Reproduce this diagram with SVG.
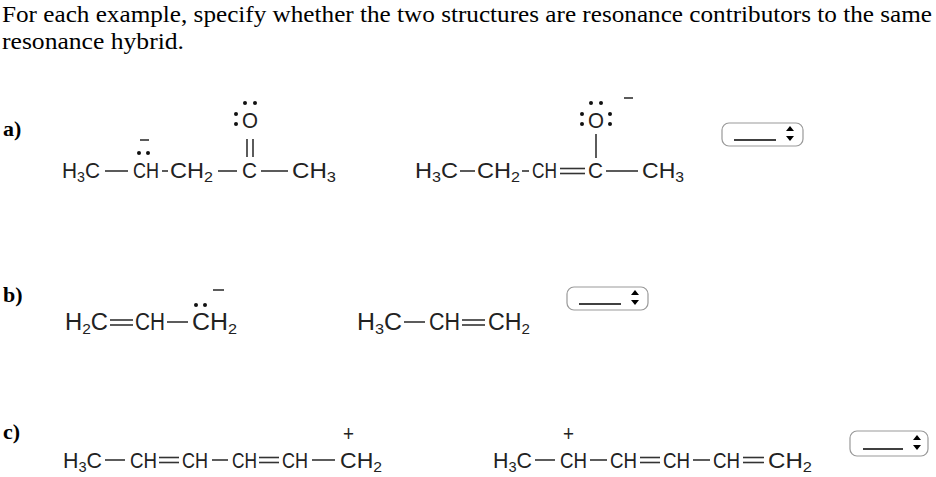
<svg xmlns="http://www.w3.org/2000/svg" width="936" height="477" viewBox="0 0 936 477">
<style>
.q{font-family:"Liberation Serif",serif;font-size:24px;fill:#000}
.l{font-family:"Liberation Serif",serif;font-size:22px;font-weight:bold;fill:#000}
.m{font-family:"Liberation Sans",Arial,sans-serif;font-size:22px;fill:#222}
.mb{font-family:"Liberation Sans",Arial,sans-serif;font-size:23px;fill:#222}
.s{font-size:15px}
.b{stroke:#333;stroke-width:1.6;fill:none}
.d{fill:#111}
.box{fill:#fff;stroke:#999;stroke-width:1.2}
</style>
<rect width="936" height="477" fill="#fff"/>
<text class="q" x="2" y="22" textLength="930" lengthAdjust="spacingAndGlyphs">For each example, specify whether the two structures are resonance contributors to the same</text>
<text class="q" x="2" y="49" textLength="182" lengthAdjust="spacingAndGlyphs">resonance hybrid.</text>
<text class="l" x="3" y="136">a)</text>
<text class="l" x="3" y="302">b)</text>
<text class="l" x="3" y="439">c)</text>

<g id="a1">
<text class="m" x="62" y="178" textLength="38" lengthAdjust="spacingAndGlyphs">H<tspan class="s" dy="4">3</tspan><tspan dy="-4">C</tspan></text>
<text class="m" x="133" y="178" textLength="26" lengthAdjust="spacingAndGlyphs">CH</text>
<text class="m" x="170" y="178" textLength="43" lengthAdjust="spacingAndGlyphs">CH<tspan class="s" dy="4">2</tspan></text>
<text class="m" x="242" y="178" textLength="15" lengthAdjust="spacingAndGlyphs">C</text>
<text class="m" x="292" y="178" textLength="44" lengthAdjust="spacingAndGlyphs">CH<tspan class="s" dy="4">3</tspan></text>
<line class="b" x1="105" y1="171" x2="128" y2="171"/>
<line class="b" x1="162" y1="171" x2="168" y2="171"/>
<line class="b" x1="218" y1="171" x2="237" y2="171"/>
<line class="b" x1="261" y1="171" x2="288" y2="171"/>
<circle class="d" cx="139" cy="153" r="2"/><circle class="d" cx="148" cy="153" r="2"/>
<line class="b" x1="140" y1="140" x2="149" y2="140"/>
<line class="b" x1="247" y1="139" x2="247" y2="157"/><line class="b" x1="253" y1="139" x2="253" y2="157"/>
<text class="m" x="242" y="128" textLength="16" lengthAdjust="spacingAndGlyphs">O</text>
<circle class="d" cx="245" cy="103" r="2"/><circle class="d" cx="255" cy="103" r="2"/>
<circle class="d" cx="236" cy="114" r="2"/><circle class="d" cx="236" cy="124" r="2"/>
</g>
<g id="a2">
<text class="m" x="415" y="178" textLength="43" lengthAdjust="spacingAndGlyphs">H<tspan class="s" dy="4">3</tspan><tspan dy="-4">C</tspan></text>
<text class="m" x="477" y="178" textLength="43" lengthAdjust="spacingAndGlyphs">CH<tspan class="s" dy="4">2</tspan></text>
<text class="m" x="532" y="178" textLength="25" lengthAdjust="spacingAndGlyphs">CH</text>
<text class="m" x="588" y="178" textLength="15" lengthAdjust="spacingAndGlyphs">C</text>
<text class="m" x="642" y="178" textLength="42" lengthAdjust="spacingAndGlyphs">CH<tspan class="s" dy="4">3</tspan></text>
<line class="b" x1="460" y1="171" x2="475" y2="171"/>
<line class="b" x1="522" y1="171" x2="529" y2="171"/>
<line class="b" x1="560" y1="168.5" x2="585" y2="168.5"/><line class="b" x1="560" y1="173.5" x2="585" y2="173.5"/>
<line class="b" x1="606" y1="171" x2="638" y2="171"/>
<line class="b" x1="596" y1="134" x2="596" y2="158"/>
<text class="m" x="588" y="128" textLength="16" lengthAdjust="spacingAndGlyphs">O</text>
<circle class="d" cx="591" cy="103" r="2"/><circle class="d" cx="601" cy="103" r="2"/>
<circle class="d" cx="582" cy="114" r="2"/><circle class="d" cx="582" cy="124" r="2"/>
<circle class="d" cx="610" cy="114" r="2"/><circle class="d" cx="610" cy="124" r="2"/>
<line class="b" x1="624" y1="98" x2="633" y2="98"/>
</g>
<g id="b1">
<text class="mb" x="65" y="330" textLength="43" lengthAdjust="spacingAndGlyphs">H<tspan class="s" dy="4">2</tspan><tspan dy="-4">C</tspan></text>
<text class="mb" x="135" y="330" textLength="30" lengthAdjust="spacingAndGlyphs">CH</text>
<text class="mb" x="192" y="330" textLength="45" lengthAdjust="spacingAndGlyphs">CH<tspan class="s" dy="4">2</tspan></text>
<line class="b" x1="110" y1="320" x2="133" y2="320"/><line class="b" x1="110" y1="325" x2="133" y2="325"/>
<line class="b" x1="167" y1="322" x2="188" y2="322"/>
<circle class="d" cx="196" cy="305" r="2"/><circle class="d" cx="205" cy="305" r="2"/>
<line class="b" x1="213" y1="290" x2="224" y2="290"/>
</g>
<g id="b2">
<text class="mb" x="357" y="330" textLength="45" lengthAdjust="spacingAndGlyphs">H<tspan class="s" dy="4">3</tspan><tspan dy="-4">C</tspan></text>
<text class="mb" x="429" y="330" textLength="31" lengthAdjust="spacingAndGlyphs">CH</text>
<text class="mb" x="488" y="330" textLength="42" lengthAdjust="spacingAndGlyphs">CH<tspan class="s" dy="4">2</tspan></text>
<line class="b" x1="404" y1="322" x2="425" y2="322"/>
<line class="b" x1="462" y1="320" x2="485" y2="320"/><line class="b" x1="462" y1="325" x2="485" y2="325"/>
</g>
<g id="c1">
<text class="m" x="63" y="468" textLength="39" lengthAdjust="spacingAndGlyphs">H<tspan class="s" dy="4">3</tspan><tspan dy="-4">C</tspan></text>
<text class="m" x="130" y="468" textLength="27" lengthAdjust="spacingAndGlyphs">CH</text>
<text class="m" x="182" y="468" textLength="26" lengthAdjust="spacingAndGlyphs">CH</text>
<text class="m" x="232" y="468" textLength="25" lengthAdjust="spacingAndGlyphs">CH</text>
<text class="m" x="282" y="468" textLength="26" lengthAdjust="spacingAndGlyphs">CH</text>
<text class="m" x="340" y="468" textLength="42" lengthAdjust="spacingAndGlyphs">CH<tspan class="s" dy="4">2</tspan></text>
<line class="b" x1="105" y1="460" x2="125" y2="460"/>
<line class="b" x1="159" y1="457.5" x2="179" y2="457.5"/><line class="b" x1="159" y1="462.5" x2="179" y2="462.5"/>
<line class="b" x1="212" y1="460" x2="228" y2="460"/>
<line class="b" x1="259" y1="457.5" x2="279" y2="457.5"/><line class="b" x1="259" y1="462.5" x2="279" y2="462.5"/>
<line class="b" x1="312" y1="460" x2="335" y2="460"/>
<text class="m" x="343" y="441" font-size="15" textLength="11" lengthAdjust="spacingAndGlyphs">+</text>
</g>
<g id="c2">
<text class="m" x="493" y="468" textLength="39" lengthAdjust="spacingAndGlyphs">H<tspan class="s" dy="4">3</tspan><tspan dy="-4">C</tspan></text>
<text class="m" x="560" y="468" textLength="27" lengthAdjust="spacingAndGlyphs">CH</text>
<text class="m" x="610" y="468" textLength="27" lengthAdjust="spacingAndGlyphs">CH</text>
<text class="m" x="663" y="468" textLength="27" lengthAdjust="spacingAndGlyphs">CH</text>
<text class="m" x="713" y="468" textLength="27" lengthAdjust="spacingAndGlyphs">CH</text>
<text class="m" x="768" y="468" textLength="44" lengthAdjust="spacingAndGlyphs">CH<tspan class="s" dy="4">2</tspan></text>
<line class="b" x1="535" y1="460" x2="555" y2="460"/>
<line class="b" x1="590" y1="460" x2="607" y2="460"/>
<line class="b" x1="640" y1="457.5" x2="660" y2="457.5"/><line class="b" x1="640" y1="462.5" x2="660" y2="462.5"/>
<line class="b" x1="693" y1="460" x2="710" y2="460"/>
<line class="b" x1="743" y1="457.5" x2="764" y2="457.5"/><line class="b" x1="743" y1="462.5" x2="764" y2="462.5"/>
<text class="m" x="563" y="441" font-size="15" textLength="11" lengthAdjust="spacingAndGlyphs">+</text>
</g>
<g id="selects">
<rect class="box" x="722" y="123" width="81" height="23" rx="7"/>
<line x1="734" y1="140" x2="776" y2="140" stroke="#000" stroke-width="1.3"/>
<path d="M786 131 l4 -5 l4 5z M786 136 l4 5 l4 -5z" fill="#000"/>
<rect class="box" x="567" y="287" width="81" height="23" rx="7"/>
<line x1="579" y1="304" x2="621" y2="304" stroke="#000" stroke-width="1.3"/>
<path d="M631 295 l4 -5 l4 5z M631 300 l4 5 l4 -5z" fill="#000"/>
<rect class="box" x="850" y="431" width="78" height="25" rx="7"/>
<line x1="863" y1="449" x2="903" y2="449" stroke="#000" stroke-width="1.3"/>
<path d="M913 440 l4 -5 l4 5z M913 445 l4 5 l4 -5z" fill="#000"/>
</g>
</svg>
